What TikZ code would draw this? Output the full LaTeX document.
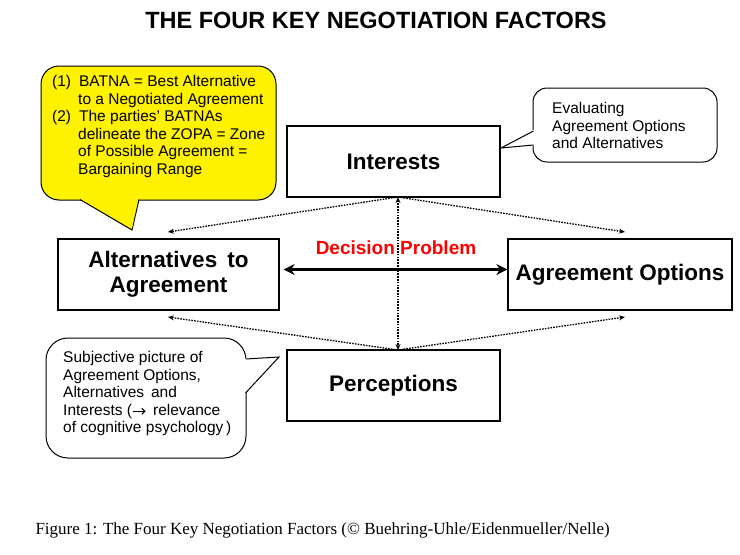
\documentclass[tikz,border=0pt]{standalone}
\usepackage{fontspec}
\setmainfont{Liberation Sans}
\newfontfamily\capfont{Liberation Serif}
\usetikzlibrary{arrows.meta}
\begin{document}
\begin{tikzpicture}[x=1pt,y=-1pt,
  box/.style={draw,line width=1.2pt,font=\bfseries\fontsize{22.5}{25}\selectfont,align=center,inner sep=0},
  call/.style={draw,line width=1pt,rounded corners=18},
  ctext/.style={font=\fontsize{15.5}{17.6}\selectfont,align=left,anchor=north west,inner sep=0},
  dots/.style={dash pattern=on 1.6pt off 1.2pt,line width=1.3pt,-{Stealth[length=6pt,width=5pt]}}]
\useasboundingbox (0,0) rectangle (740,555);
\node[font=\bfseries\fontsize{23.5}{27}\selectfont] (title) at (376,20) {THE FOUR KEY NEGOTIATION FACTORS};
\node[box,minimum width=213pt,minimum height=71pt] (int) at (393.5,161.5) {Interests};
\node[box,minimum width=221pt,minimum height=71pt] (alt) at (168.5,274.5) {Alternatives\, to\\Agreement};
\node[box,minimum width=224pt,minimum height=71pt] (opt) at (620,274.5) {Agreement Options};
\node[box,minimum width=213pt,minimum height=71pt] (per) at (393.5,385.5) {Perceptions};
\coordinate (it) at (398,197);
\coordinate (pt) at (398,350);
\coordinate (aL) at (168,232);
\coordinate (aR) at (625,232);
\coordinate (bL) at (168,317);
\coordinate (bR) at (625,317);
\draw[dots] (it) -- (aL);
\draw[dots] (it) -- (aR);
\draw[dots] (pt) -- (bL);
\draw[dots] (pt) -- (bR);
\draw[dots,{Stealth[length=6pt,width=5pt]}-{Stealth[length=6pt,width=5pt]}] (it) -- (pt);
\draw[line width=2.5pt,{Stealth[length=11pt,width=11pt]}-{Stealth[length=11pt,width=11pt]}] (alt.east)++(4,-5) coordinate (dl) -- (opt.west |- dl);
\node[font=\bfseries\fontsize{19}{22}\selectfont,text=red] (dp) at (396,248) {Decision Problem};
% yellow callout
\filldraw[fill=yellow,line width=1pt,rounded corners=18] (41,66) rectangle (276,200);
\draw[line width=1pt,fill=yellow] (80,199.5) -- (132,230) -- (139,199.5);
\fill[yellow] (81,199) -- (138,199) -- (132,228) -- cycle;
\node[ctext] (y1) at (52,75) {(1)\hspace{8pt}BATNA = Best Alternative\\\hspace{26pt}to a Negotiated Agreement\\(2)\hspace{8pt}The parties’ BATNAs\\\hspace{26pt}delineate the ZOPA = Zone\\\hspace{26pt}of Possible Agreement =\\\hspace{26pt}Bargaining Range};
% right callout
\filldraw[fill=white,line width=1pt,rounded corners=14] (533,88) rectangle (717,162);
\fill[white] (535,130) -- (535,146) -- (530,146) -- (530,130) -- cycle;
\draw[line width=1pt] (533.5,131) -- (501,148) -- (533.5,145);
\node[ctext] (r1) at (552,102) {Evaluating\\Agreement Options\\and Alternatives};
% bottom left callout
\filldraw[fill=white,line width=1pt,rounded corners=22] (46,338) rectangle (246,458);
\fill[white] (244,358) -- (244,392) -- (250,392) -- (250,358) -- cycle;
\draw[line width=1pt] (245.5,359) -- (279,357) -- (245.5,393);
\node[ctext] (b1) at (63,351) {Subjective picture of\\Agreement Options,\\Alternatives\, and\\Interests (\tikz[baseline=-4pt]\draw[line width=1.1pt,-{Straight Barb[length=3pt]}] (0,0)--(13pt,0);\, relevance\\of cognitive psychology\,)};
\node[font=\capfont\fontsize{17}{20}\selectfont,anchor=west] (cap) at (32,530) {Figure 1: The Four Key Negotiation Factors (© Buehring-Uhle/Eidenmueller/Nelle)};
\end{tikzpicture}
\end{document}
